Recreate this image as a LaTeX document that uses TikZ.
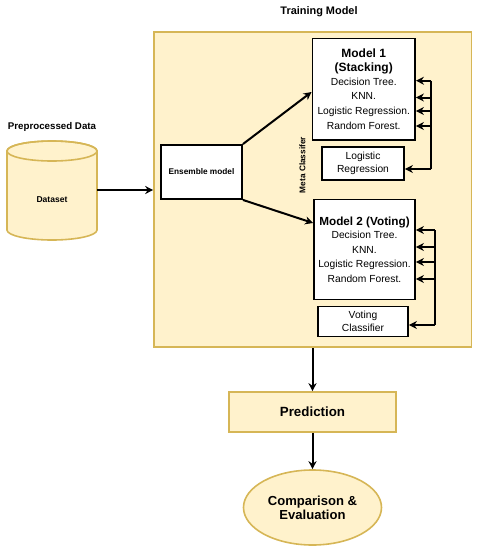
\documentclass[tikz,border=0pt]{standalone}
\usepackage{fontspec}
\setmainfont{Liberation Sans}
\usetikzlibrary{arrows.meta,fit,shapes.geometric}
\definecolor{yfill}{HTML}{FFF2CC}
\definecolor{ydraw}{HTML}{D6B656}
\begin{document}
\begin{tikzpicture}[x=0.75pt,y=0.75pt,
  wbox/.style={draw=black,line width=1.4pt,fill=white,inner sep=0pt},
  ybox/.style={draw=ydraw,line width=1.2pt,fill=yfill,inner sep=0pt},
  txt/.style={inner sep=0pt,align=center,text=black},
  arr/.style={line width=1.5pt,-{Stealth[length=6pt,width=6pt]}},
  bus/.style={line width=1.5pt},
  reg/.style={font=\fontsize{7.7}{11}\selectfont},
]
\useasboundingbox (0,0) rectangle (477,-550);

% panel
\node[ybox, fit={(154,-32)(471.5,-347)}] (panel) {};
\node[txt, font=\bfseries\fontsize{8.2}{10}\selectfont] (tm) at (319,-12) {Training Model};

% dataset cylinder
\node[txt, font=\bfseries\fontsize{7.3}{9}\selectfont] (pd) at (52,-127) {Preprocessed Data};
\filldraw[draw=ydraw, fill=yfill, line width=1.2pt]
  (7,-151) -- (7,-230) arc[start angle=180,end angle=360,x radius=45,y radius=10]
  -- (97,-151) arc[start angle=0,end angle=180,x radius=45,y radius=10] -- cycle;
\draw[draw=ydraw, line width=1.2pt] (52,-151) ellipse[x radius=45,y radius=10];
\node[txt, font=\bfseries\fontsize{6.4}{8}\selectfont] (ds) at (52,-200) {Dataset};
\coordinate (dsr) at (97,-190);
\draw[arr] (dsr) -- (panel.west |- dsr);

% ensemble
\node[wbox, fit={(161,-145)(242,-199)}] (ens) {};
\node[txt, font=\bfseries\fontsize{6.2}{8}\selectfont] (enst) at (ens.center) {Ensemble model};
\node[txt, rotate=90, font=\bfseries\fontsize{6.2}{8}\selectfont] (meta) at (302.5,-165) {Meta Classifer};

% model 1
\node[wbox, fit={(312.5,-38.5)(415,-140)}] (m1) {};
\node[txt, reg] (m1t) at (m1.center)
  {{\bfseries\fontsize{9}{10}\selectfont Model 1}\\[-1pt]
   {\bfseries\fontsize{9}{10}\selectfont (Stacking)}\\[-0.5pt]
   Decision Tree.\\KNN.\\Logistic Regression.\\Random Forest.};
\node[wbox, fit={(322,-147)(404,-180)}] (lr) {};
\node[txt, font=\fontsize{7.7}{9.3}\selectfont] (lrt) at (lr.center) {Logistic\\Regression};

% model 2
\node[wbox, fit={(314,-199.5)(415,-299.5)}] (m2) {};
\node[txt, reg] (m2t) at (m2.center)
  {{\bfseries\fontsize{8.8}{10}\selectfont Model 2 (Voting)}\\[-1pt]
   Decision Tree.\\KNN.\\Logistic Regression.\\Random Forest.};
\node[wbox, fit={(318,-306.5)(408,-336.5)}] (vc) {};
\node[txt, font=\fontsize{7.7}{9.3}\selectfont] (vct) at (vc.center) {Voting\\Classifier};

% prediction and evaluation
\node[ybox, fit={(229,-392)(396,-432)}] (pred) {};
\node[txt, font=\bfseries\fontsize{10}{12}\selectfont] (predt) at (pred.center) {Prediction};
\node[ybox, ellipse, minimum width=103.5pt, minimum height=56.25pt] (ev) at (312.5,-507.5) {};
\node[txt, font=\bfseries\fontsize{9.8}{10.5}\selectfont] (evt) at (ev.center) {Comparison \&\\Evaluation};

% connectors
\draw[arr] (ens.north east) -- (m1.west |- 0,-92);
\draw[arr] (ens.south east) -- (m2.west |- 0,-223);
\draw[arr] (pred.north |- panel.south) -- (pred.north);
\draw[arr] (pred.south) -- (ev.north);

% bus 1
\coordinate (b1t) at (431,-80.7);
\coordinate (b1b) at (431,-169);
\draw[bus] (b1t) -- (b1b);
\foreach \y in {-80.7,-97.5,-111,-126} \draw[arr] (431,\y) -- (m1.east |- 0,\y);
\draw[arr] (b1b) -- (lr.east |- b1b);

% bus 2
\coordinate (b2t) at (435,-230);
\coordinate (b2b) at (435,-325);
\draw[bus] (b2t) -- (b2b);
\foreach \y in {-230,-247,-262,-279} \draw[arr] (435,\y) -- (m2.east |- 0,\y);
\draw[arr] (b2b) -- (vc.east |- b2b);
\end{tikzpicture}
\end{document}
